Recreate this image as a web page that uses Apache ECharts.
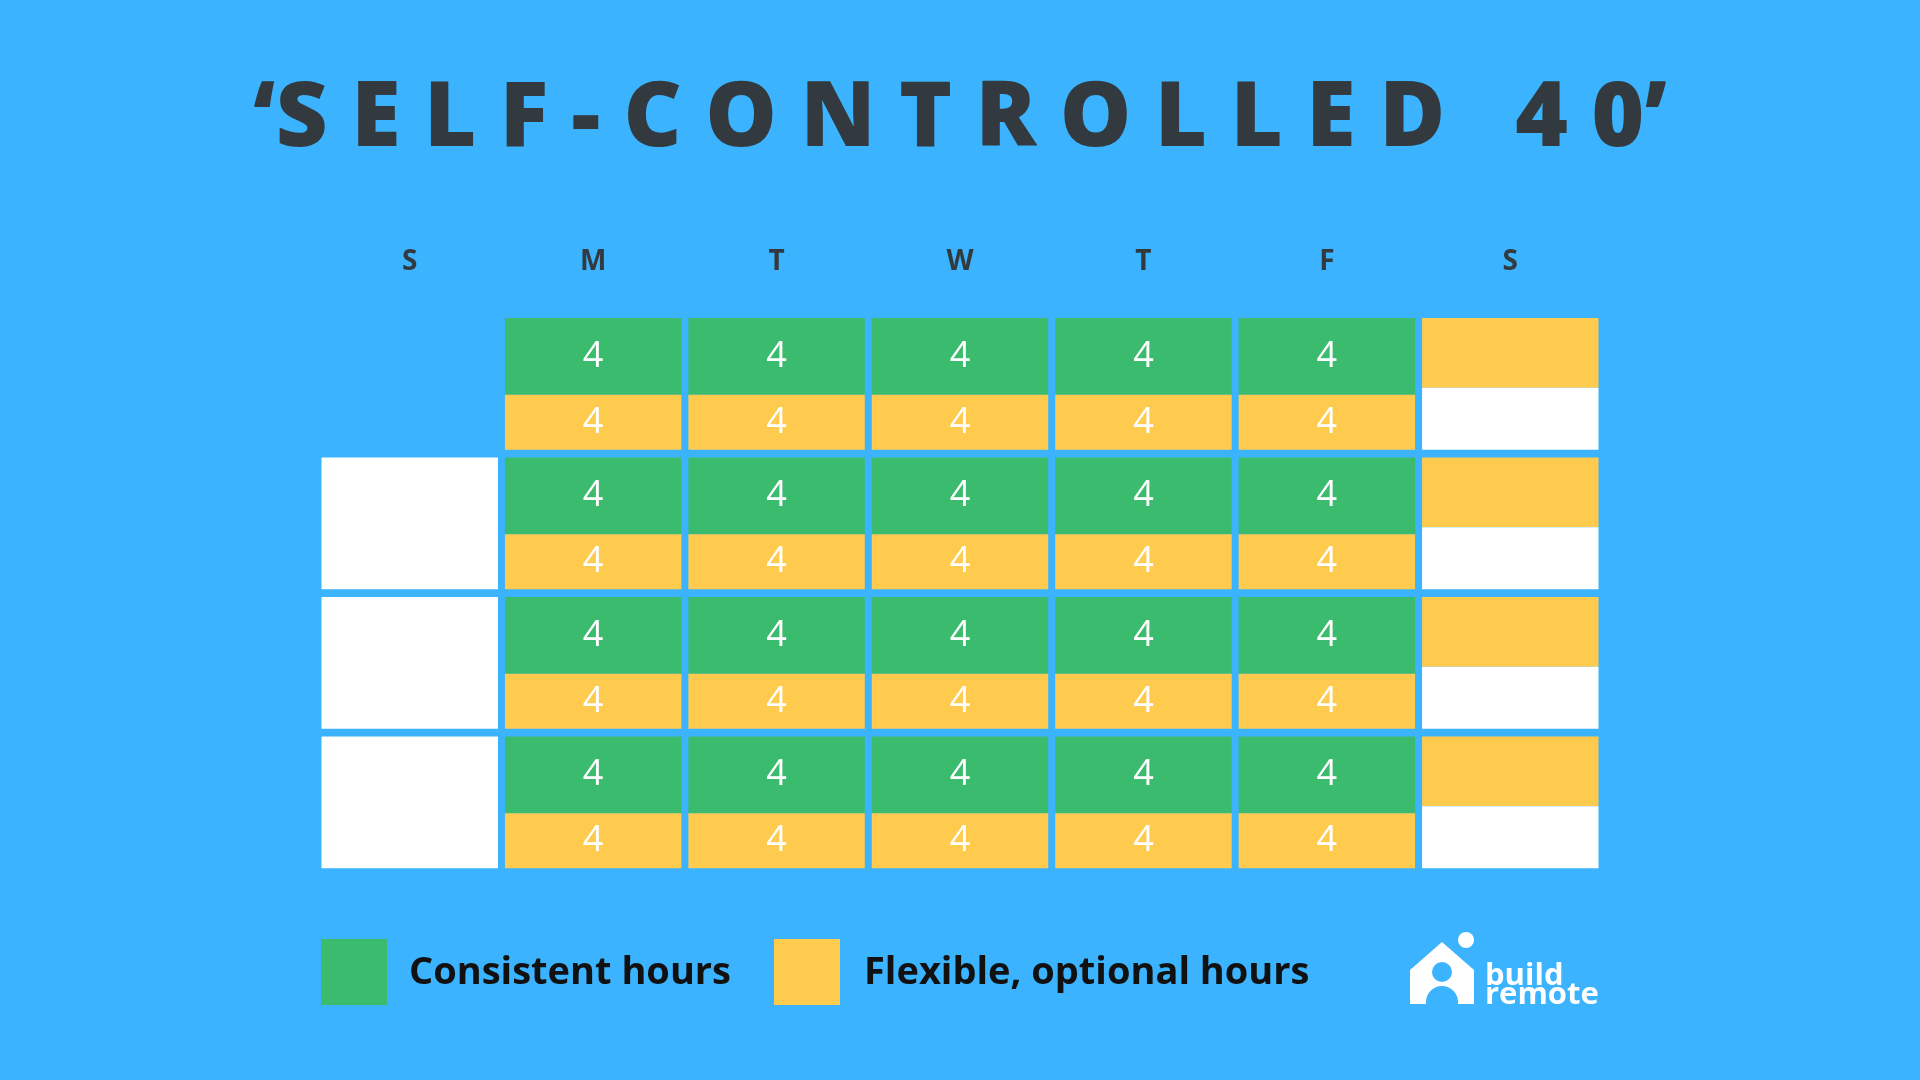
<!DOCTYPE html>
<html lang="en">
<head>
    <meta charset="UTF-8">
    <title>Self-controlled 40</title>
    <script src="https://cdn.jsdelivr.net/npm/echarts@6/dist/echarts.min.js"></script>
    <style>
        html, body { margin: 0; padding: 0; background: #3bb3fe; }
        #main { width: 1920px; height: 1080px; }
    </style>
</head>
<body>
<div id="main"></div>
<script>
    // week days shown across the top
    var days = ['S', 'M', 'T', 'W', 'T', 'F', 'S'];
    var weeks = [1, 2, 3, 4];
    // hours per weekday block (Mon-Fri), per week
    var consistentHours = [4, 4, 4, 4, 4];
    var flexibleHours = [4, 4, 4, 4, 4];
    // weekend: saturday has a flexible part each week, sunday is free from week 2 on
    var saturdayFlexible = [true, true, true, true];
    var sundayFree = [false, true, true, true];

    var GREEN = '#3bbb6e', YELLOW = '#ffcb4f', WHITE = '#ffffff';
    var BLOCK = 0.945, GREEN_PART = 0.55, SAT_PART = 0.5;

    var cells = [];
    weeks.forEach(function (w, wi) {
        if (sundayFree[wi]) cells.push([0, wi, wi + BLOCK, '', WHITE]);
        for (var d = 0; d < 5; d++) {
            cells.push([d + 1, wi, wi + GREEN_PART, String(consistentHours[d]), GREEN]);
            cells.push([d + 1, wi + GREEN_PART, wi + BLOCK, String(flexibleHours[d]), YELLOW]);
        }
        if (saturdayFlexible[wi]) {
            cells.push([6, wi, wi + SAT_PART, '', YELLOW]);
            cells.push([6, wi + SAT_PART, wi + BLOCK, '', WHITE]);
        }
    });

    var chart = echarts.init(document.getElementById('main'));

    var option = {
        backgroundColor: '#3bb3fe',
        animation: false,
        title: {
            text: '‘S E L F - C O N T R O L L E D   4 0’',
            left: 'center',
            top: 70,
            textStyle: { fontFamily: 'Open Sans', fontWeight: 800, fontSize: 90, color: '#333a3f' }
        },
        grid: { left: 318, top: 318, width: 1284, height: 558 },
        xAxis: {
            type: 'category',
            position: 'top',
            data: days,
            axisLine: { show: false },
            axisTick: { show: false },
            axisLabel: { margin: 42, fontFamily: 'Open Sans', fontWeight: 'bold', fontSize: 28, color: '#333a3f' }
        },
        yAxis: {
            type: 'value', min: 0, max: 4, inverse: true, show: false
        },
        series: [{
            type: 'custom',
            data: cells,
            renderItem: function (params, api) {
                var top = api.coord([api.value(0), api.value(1)]);
                var bottom = api.coord([api.value(0), api.value(2)]);
                var band = api.size([1, 0])[0];
                var w = band - 7;
                var label = cells[params.dataIndex][3];
                var color = cells[params.dataIndex][4];
                return {
                    type: 'rect',
                    shape: { x: top[0] - w / 2, y: top[1], width: w, height: bottom[1] - top[1] },
                    style: {
                        fill: color,
                        text: label,
                        textFill: '#ffffff',
                        fontFamily: 'Open Sans',
                        fontSize: 36,
                        textPosition: 'inside'
                    }
                };
            }
        }],
        graphic: [
            { type: 'rect', shape: { x: 321, y: 939, width: 66, height: 66 }, style: { fill: GREEN } },
            { type: 'text', x: 409, y: 973, style: { text: 'Consistent hours', fontFamily: 'Open Sans', fontWeight: 'bold', fontSize: 38, fill: '#111', verticalAlign: 'middle' } },
            { type: 'rect', shape: { x: 774, y: 939, width: 66, height: 66 }, style: { fill: YELLOW } },
            { type: 'text', x: 864, y: 973, style: { text: 'Flexible, optional hours', fontFamily: 'Open Sans', fontWeight: 'bold', fontSize: 38, fill: '#111', verticalAlign: 'middle' } },
            // logo
            { type: 'polygon', shape: { points: [[1410, 970], [1442, 942], [1474, 970], [1474, 1004], [1410, 1004]] }, style: { fill: '#fff' } },
            { type: 'circle', shape: { cx: 1466, cy: 940, r: 8 }, style: { fill: '#fff' } },
            { type: 'circle', shape: { cx: 1442, cy: 972, r: 10 }, style: { fill: '#3bb3fe' } },
            { type: 'rect', shape: { x: 1426, y: 986, width: 32, height: 18, r: [16, 16, 0, 0] }, style: { fill: '#3bb3fe' } },
            { type: 'text', x: 1485, y: 976, style: { text: 'build', fontFamily: 'Open Sans', fontWeight: 'bold', fontSize: 31, fill: '#fff', verticalAlign: 'middle' } },
            { type: 'text', x: 1485, y: 995, style: { text: 'remote', fontFamily: 'Open Sans', fontWeight: 'bold', fontSize: 31, fill: '#fff', verticalAlign: 'middle' } }
        ]
    };
    chart.setOption(option);
</script>
</body>
</html>
